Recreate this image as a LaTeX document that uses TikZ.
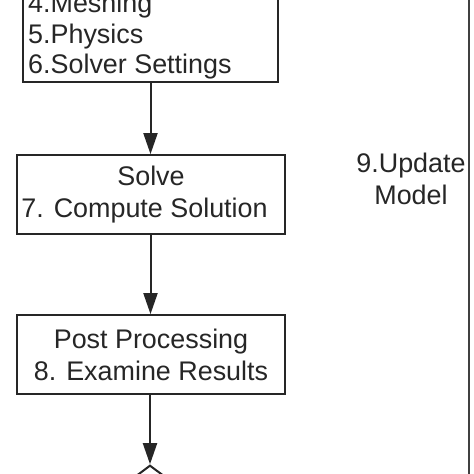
\documentclass[tikz,border=0pt]{standalone}
\usepackage{fontspec}
\setmainfont{Liberation Sans}
\usetikzlibrary{arrows.meta,shapes.geometric}
\begin{document}
\begin{tikzpicture}[x=1bp,y=1bp,
        every node/.style={font=\fontsize{27}{32}\selectfont, text=black!85},
        stepbox/.style={draw=black!85, line width=2bp, rectangle, inner sep=0pt},
        decision/.style={draw=black!85, line width=2bp, diamond, inner sep=0pt},
        flow/.style={draw=black!85, line width=2bp, -{Triangle[length=21bp,width=14bp]}},
        back/.style={draw=black!75, line width=2bp}]
        \useasboundingbox (0,0) rectangle (474,474);
        \node [stepbox, minimum width=255, minimum height=200, anchor=south] (setup) at (150.5,391) {};
        \node [anchor=south west, align=left, inner sep=0pt, font=\fontsize{27}{30.5}\selectfont] (setuptext) at (28,394.5) {4.Meshing\\5.Physics\\6.Solver Settings};
        \node [stepbox, minimum width=268, minimum height=79, align=center] (solve) at (151,279.5) {Solve\\7. Compute Solution\hspace*{13bp}};
        \node [stepbox, minimum width=268, minimum height=79, align=center] (post) at (151,119.5) {Post Processing\\8. Examine Results};
        \node [decision, minimum width=160, minimum height=120] (check) at (150,-51) {};
        \coordinate (loopbot) at (469,-6);
        \coordinate (looptop) at (469,480);
        \node [align=center] (update) at (411,295) {9.Update\\Model};
        \draw [flow] (setup.south) -- (setup.south |- solve.north);
        \draw [flow] (solve.south -| setup.south) -- (setup.south |- post.north);
        \draw [flow] (post.south -| check.north) -- (check.north);
        \draw [back] (loopbot) -- (looptop);
\end{tikzpicture}
\end{document}
